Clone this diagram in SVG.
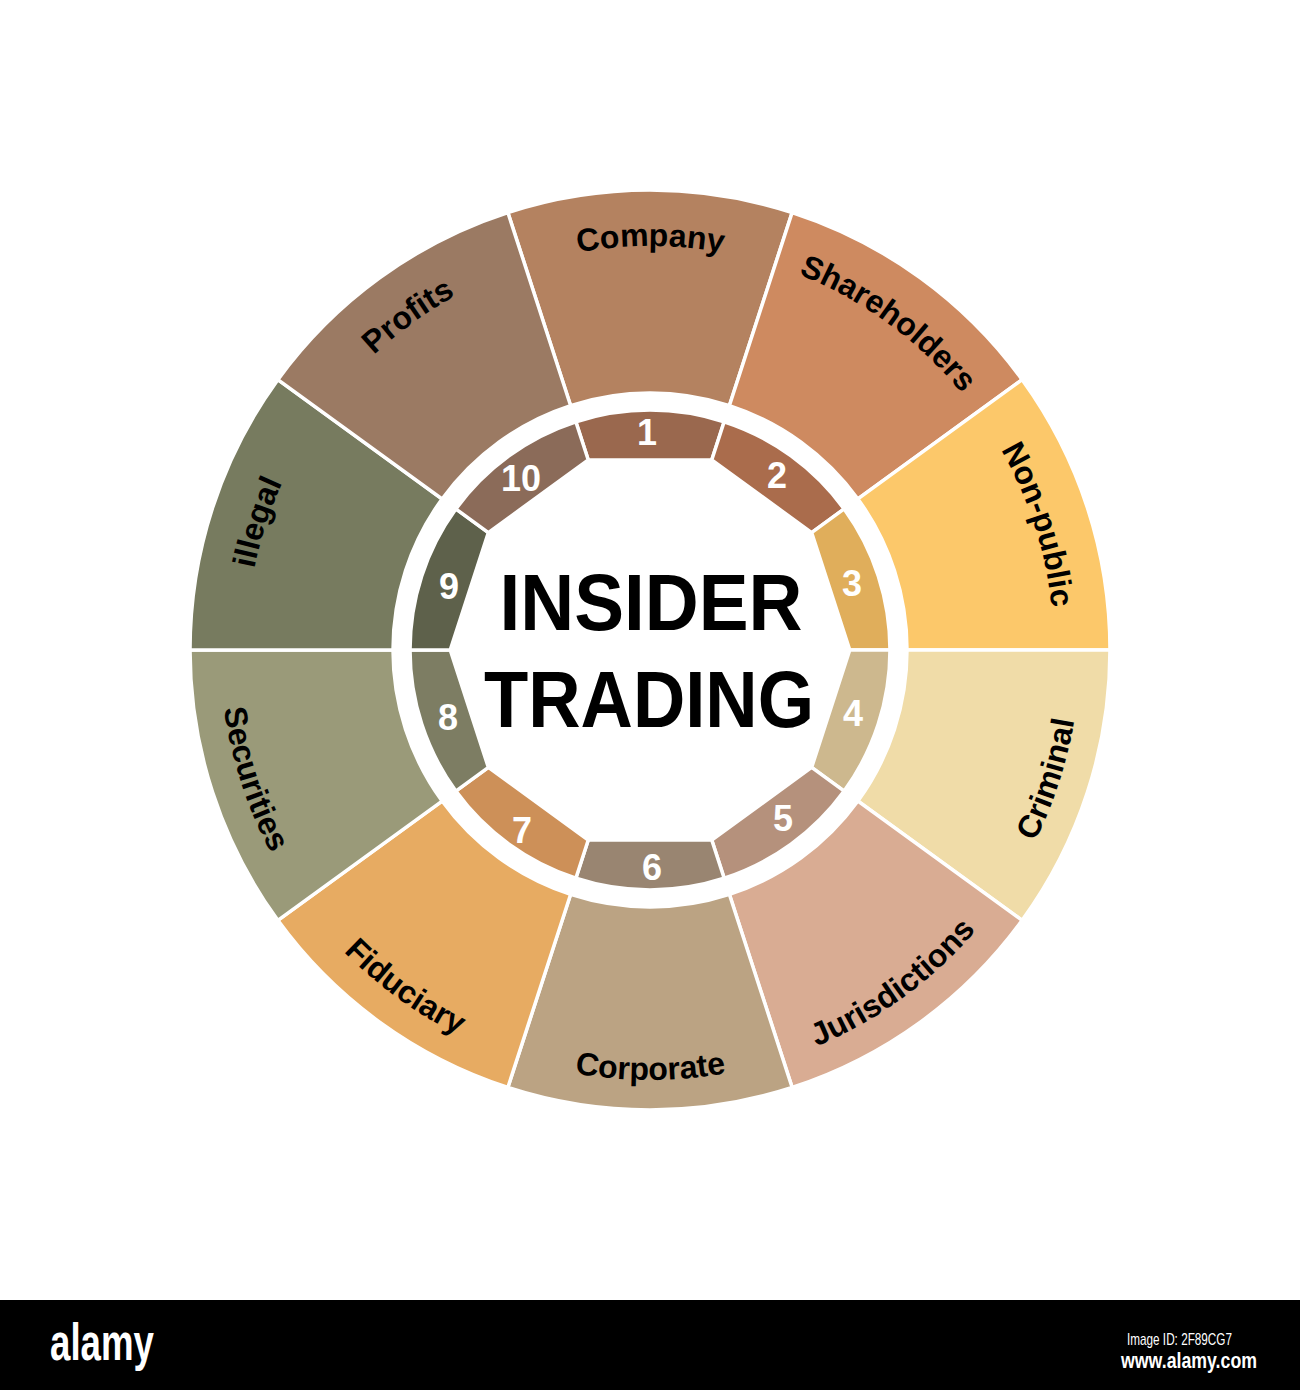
<svg xmlns="http://www.w3.org/2000/svg" width="1300" height="1390" viewBox="0 0 1300 1390">
<style>
.sec{stroke:#ffffff;stroke-width:3.5;stroke-linejoin:miter}
.num{fill:#ffffff;font-family:"Liberation Sans",Arial,sans-serif;font-weight:bold;font-size:36px;text-anchor:middle}
.lbl{fill:#000000;font-family:"Liberation Sans",Arial,sans-serif;font-weight:bold;font-size:32px;text-anchor:middle}
.title{fill:#000000;font-family:"Liberation Sans",Arial,sans-serif;font-weight:bold;font-size:80px;text-anchor:middle}
</style>
<defs>
<path id="arcTop" d="M 650 1054 A 404 404 0 1 1 650 246 A 404 404 0 1 1 650 1054"/>
<path id="arcBot" d="M 650 220 A 430 430 0 1 0 650 1080 A 430 430 0 1 0 650 220"/>
</defs>
<rect x="0" y="0" width="1300" height="1390" fill="#ffffff"/>

<g id="node-1">
<path class="sec" fill="#B48260" d="M 792.15 212.51 A 460 460 0 0 0 507.85 212.51 L 570.58 405.58 A 257 257 0 0 1 729.42 405.58 Z"/>
<path class="sec" fill="#9A684E" d="M 724.16 421.75 A 240 240 0 0 0 575.84 421.75 L 588.26 460 L 711.74 460 Z"/>
<text class="num" x="647" y="445">1</text>
<text class="lbl"><textPath href="#arcTop" startOffset="1269.2">Company</textPath></text>
</g>
<g id="node-2">
<path class="sec" fill="#CE8A60" d="M 1022.15 379.62 A 460 460 0 0 0 792.15 212.51 L 729.42 405.58 A 257 257 0 0 1 857.92 498.94 Z"/>
<path class="sec" fill="#AA6C4C" d="M 844.16 508.93 A 240 240 0 0 0 724.16 421.75 L 711.74 460 L 811.63 532.57 Z"/>
<text class="num" x="777" y="488">2</text>
<text class="lbl"><textPath href="#arcTop" startOffset="1523.0">Shareholders</textPath></text>
</g>
<g id="node-3">
<path class="sec" fill="#FCC86A" d="M 1110 650 A 460 460 0 0 0 1022.15 379.62 L 857.92 498.94 A 257 257 0 0 1 907 650 Z"/>
<path class="sec" fill="#E0AE5B" d="M 890 650 A 240 240 0 0 0 844.16 508.93 L 811.63 532.57 L 849.78 650 Z"/>
<text class="num" x="852" y="596">3</text>
<text class="lbl"><textPath href="#arcTop" startOffset="1776.9">Non-public</textPath></text>
</g>
<g id="node-4">
<path class="sec" fill="#F0DCA8" d="M 1022.15 920.38 A 460 460 0 0 0 1110 650 L 907 650 A 257 257 0 0 1 857.92 801.06 Z"/>
<path class="sec" fill="#CDB88E" d="M 844.16 791.07 A 240 240 0 0 0 890 650 L 849.78 650 L 811.63 767.43 Z"/>
<text class="num" x="853" y="726">4</text>
<text class="lbl"><textPath href="#arcBot" startOffset="1891.2">Criminal</textPath></text>
</g>
<g id="node-5">
<path class="sec" fill="#D9AC93" d="M 792.15 1087.49 A 460 460 0 0 0 1022.15 920.38 L 857.92 801.06 A 257 257 0 0 1 729.42 894.42 Z"/>
<path class="sec" fill="#B5917C" d="M 724.16 878.25 A 240 240 0 0 0 844.16 791.07 L 811.63 767.43 L 711.74 840 Z"/>
<text class="num" x="783" y="831">5</text>
<text class="lbl"><textPath href="#arcBot" startOffset="1621.1">Jurisdictions</textPath></text>
</g>
<g id="node-6">
<path class="sec" fill="#BBA383" d="M 507.85 1087.49 A 460 460 0 0 0 792.15 1087.49 L 729.42 894.42 A 257 257 0 0 1 570.58 894.42 Z"/>
<path class="sec" fill="#998571" d="M 575.84 878.25 A 240 240 0 0 0 724.16 878.25 L 711.74 840 L 588.26 840 Z"/>
<text class="num" x="652" y="880">6</text>
<text class="lbl"><textPath href="#arcBot" startOffset="1350.9">Corporate</textPath></text>
</g>
<g id="node-7">
<path class="sec" fill="#E7AB62" d="M 277.85 920.38 A 460 460 0 0 0 507.85 1087.49 L 570.58 894.42 A 257 257 0 0 1 442.08 801.06 Z"/>
<path class="sec" fill="#CD9058" d="M 455.84 791.07 A 240 240 0 0 0 575.84 878.25 L 588.26 840 L 488.37 767.43 Z"/>
<text class="num" x="522" y="843">7</text>
<text class="lbl"><textPath href="#arcBot" startOffset="1080.7">Fiduciary</textPath></text>
</g>
<g id="node-8">
<path class="sec" fill="#9A9A79" d="M 190 650 A 460 460 0 0 0 277.85 920.38 L 442.08 801.06 A 257 257 0 0 1 393 650 Z"/>
<path class="sec" fill="#7D7D63" d="M 410 650 A 240 240 0 0 0 455.84 791.07 L 488.37 767.43 L 450.22 650 Z"/>
<text class="num" x="448" y="730">8</text>
<text class="lbl"><textPath href="#arcBot" startOffset="810.5">Securities</textPath></text>
</g>
<g id="node-9">
<path class="sec" fill="#777B5F" d="M 277.85 379.62 A 460 460 0 0 0 190 650 L 393 650 A 257 257 0 0 1 442.08 498.94 Z"/>
<path class="sec" fill="#5E614B" d="M 455.84 508.93 A 240 240 0 0 0 410 650 L 450.22 650 L 488.37 532.57 Z"/>
<text class="num" x="449" y="599">9</text>
<text class="lbl"><textPath href="#arcTop" startOffset="761.5">illegal</textPath></text>
</g>
<g id="node-10">
<path class="sec" fill="#9B7A63" d="M 507.85 212.51 A 460 460 0 0 0 277.85 379.62 L 442.08 498.94 A 257 257 0 0 1 570.58 405.58 Z"/>
<path class="sec" fill="#8B6B59" d="M 575.84 421.75 A 240 240 0 0 0 455.84 508.93 L 488.37 532.57 L 588.26 460 Z"/>
<text class="num" x="521" y="491">10</text>
<text class="lbl"><textPath href="#arcTop" startOffset="1015.4">Profits</textPath></text>
</g>

<g id="center">
<text class="title" transform="translate(651 630) scale(0.934 1)" x="0" y="0">INSIDER</text>
<text class="title" transform="translate(649 727) scale(0.906 1)" x="0" y="0">TRADING</text>
</g>

<g id="connectors"></g>

<g id="footer">
<rect x="0" y="1300" width="1300" height="90" fill="#000000"/>
<text x="50" y="1360" fill="#ffffff" font-family="'Liberation Sans',Arial,sans-serif" font-weight="bold" font-size="52" textLength="104" lengthAdjust="spacingAndGlyphs">alamy</text>
<text x="1127" y="1345" fill="#ffffff" font-family="'Liberation Sans',Arial,sans-serif" font-size="17" textLength="105" lengthAdjust="spacingAndGlyphs">Image ID: 2F89CG7</text>
<text x="1121" y="1368" fill="#ffffff" font-family="'Liberation Sans',Arial,sans-serif" font-weight="bold" font-size="22" textLength="136" lengthAdjust="spacingAndGlyphs">www.alamy.com</text>
</g>
</svg>
